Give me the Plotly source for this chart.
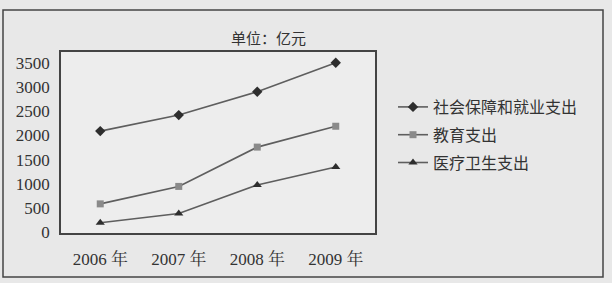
import plotly.graph_objects as go

years = ["2006 年", "2007 年", "2008 年", "2009 年"]
social = [2090, 2420, 2900, 3500]
education = [590, 950, 1760, 2190]
health = [200, 390, 980, 1350]
series_names = ["社会保障和就业支出", "教育支出", "医疗卫生支出"]
y_ticks = [0, 500, 1000, 1500, 2000, 2500, 3000, 3500]
unit_label = "单位：亿元"

W, H = 612, 283
L, R, T, B = 61, 375, 52, 233

def px_x(px):
    return (px - L) / (R - L)

def px_y(py):
    return (B - py) / (B - T)

serif = "Liberation Serif, Noto Serif CJK SC, Noto Sans CJK SC, serif"
cjk = "Noto Sans CJK SC, Liberation Serif, serif"

fig = go.Figure()
styles = [
    (social, "diamond", 8, "#2e2e2e"),
    (education, "square", 7, "#8a8a8a"),
    (health, "triangle-up", 8, "#2e2e2e"),
]
for i, (vals, sym, sz, mc) in enumerate(styles):
    fig.add_trace(go.Scatter(
        x=years, y=vals, name=series_names[i], mode="lines+markers",
        legendgroup=f"g{i}",
        line=dict(color="#5e5e5e", width=1.6),
        marker=dict(symbol=sym, size=sz, color=mc, line=dict(width=0)),
    ))

fig.update_layout(
    width=W, height=H,
    margin=dict(l=L, r=W - R, t=T, b=H - B),
    paper_bgcolor="#e8e8e8",
    plot_bgcolor="#ededed",
    showlegend=True,
    legend=dict(
        x=px_x(393), y=px_y(90), xanchor="left", yanchor="top",
        bgcolor="rgba(0,0,0,0)", tracegroupgap=4,
        font=dict(family=cjk, size=16, color="#333333"),
        itemwidth=30,
    ),
    font=dict(family=serif, color="#333333"),
    xaxis=dict(
        type="category", range=[-0.5, 3.5], showgrid=False, zeroline=False,
        showline=True, linecolor="#444444", linewidth=1.5, mirror=True,
        ticks="", tickfont=dict(family=serif, size=17, color="#333333"),
        ticklabelstandoff=10,
    ),
    yaxis=dict(
        range=[-10, 3720], tickvals=y_ticks, showgrid=False, zeroline=False,
        showline=True, linecolor="#444444", linewidth=1.5, mirror=True,
        ticks="", tickfont=dict(family=serif, size=17, color="#333333"),
        ticklabelstandoff=6,
    ),
    annotations=[dict(
        text=unit_label, x=px_x(268), y=px_y(37), xref="paper", yref="paper",
        showarrow=False, xanchor="center", yanchor="middle",
        font=dict(family=cjk, size=15, color="#333333"),
    )],
    shapes=[dict(
        type="rect", xref="paper", yref="paper",
        x0=px_x(3), x1=px_x(603), y0=px_y(277), y1=px_y(10),
        line=dict(color="#444444", width=1.5), layer="below",
    )],
)

fig.write_html("out.html")
